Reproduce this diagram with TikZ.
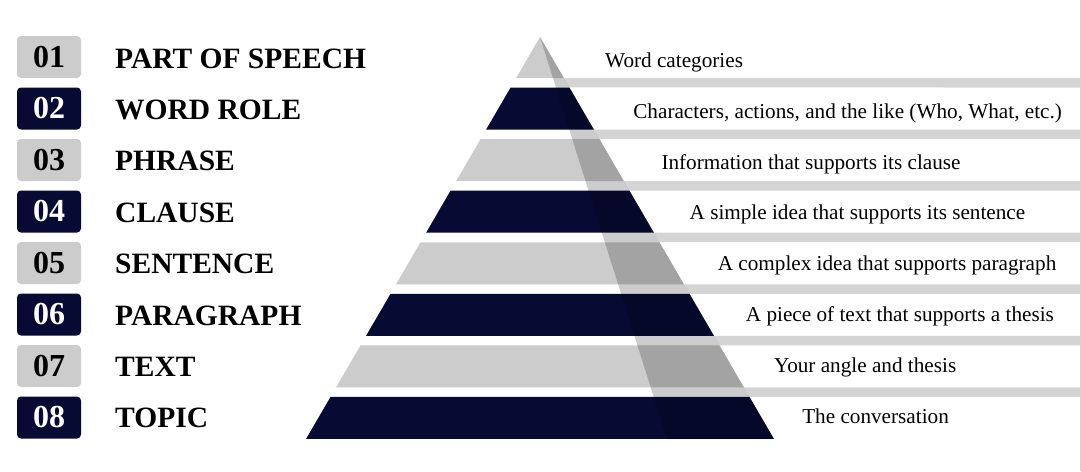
\documentclass[tikz,border=0pt]{standalone}
\usepackage{fontspec}
\setmainfont{Liberation Serif}
\usepackage{tikz}
\usetikzlibrary{calc}

\definecolor{Navy}{RGB}{7,10,50}
\definecolor{Band}{RGB}{204,204,204}
\definecolor{Bar}{RGB}{212,212,212}

\tikzset{
    numbox/.style = {rounded corners = 4pt, minimum width = 64pt, minimum height = 42pt, inner sep = 0pt, font = \fontsize{32}{32}\selectfont\bfseries},
    level/.style = {anchor = base west, inner sep = 0pt, font = \fontsize{29.5}{30}\selectfont\bfseries},
    note/.style = {anchor = base west, inner sep = 0pt, font = \fontsize{21.2}{22}\selectfont},
}

\begin{document}
\begin{tikzpicture}[x = 1pt, y = -1pt]
    \useasboundingbox [fill = white] (0, 0) rectangle (1081, 471);
    \coordinate (apex) at (540, 37);
    \coordinate (left) at (306, 439);
    \coordinate (right) at (774, 439);
    \coordinate (shade) at (667, 439);
    % bars in the gaps
    \foreach \i in {1, ..., 7} {
        \pgfmathsetmacro{\ya}{78 + 51.57*(\i - 1)}
        \pgfmathsetmacro{\yb}{\ya + 9.5}
        \pgfmathsetmacro{\ta}{(\ya - 37)/402}
        \pgfmathsetmacro{\tb}{(\yb - 37)/402}
        \fill [Bar] ($(apex)!\ta!(right)$) -- (1080, \ya) -- (1080, \yb) -- ($(apex)!\tb!(right)$) -- cycle;
    }
    % levels of the pyramid
    \foreach \i\c in {1/Band, 2/Navy, 3/Band, 4/Navy, 5/Band, 6/Navy, 7/Band, 8/Navy} {
        \pgfmathsetmacro{\tb}{(41 + 51.57*(\i - 1))/402}
        \pgfmathsetmacro{\ta}{max(0, \tb - 42/402)}
        \fill [\c] ($(apex)!\ta!(left)$) -- ($(apex)!\tb!(left)$) -- ($(apex)!\tb!(right)$) -- ($(apex)!\ta!(right)$) -- cycle;
    }
    \fill [black, opacity = 0.2] (apex) -- (shade) -- (right) -- cycle;
    \draw [Bar, line width = 1pt] (1080, 0) -- (1080, 471);
    % numbers, names and notes
    \foreach \i\c\t\name\text in {
        1/Band/black/PART OF SPEECH/Word categories,
        2/Navy/white/WORD ROLE/{Characters, actions, and the like (Who, What, etc.)},
        3/Band/black/PHRASE/Information that supports its clause,
        4/Navy/white/CLAUSE/A simple idea that supports its sentence,
        5/Band/black/SENTENCE/A complex idea that supports paragraph,
        6/Navy/white/PARAGRAPH/A piece of text that supports a thesis,
        7/Band/black/TEXT/Your angle and thesis,
        8/Navy/white/TOPIC/The conversation} {
        \pgfmathsetmacro{\ym}{57 + 51.5*(\i - 1)}
        \pgfmathsetmacro{\yl}{68 + 51.4*(\i - 1)}
        \pgfmathsetmacro{\yn}{67.5 + 50.8*(\i - 1)}
        \pgfmathsetmacro{\xn}{605 + 28.15*(\i - 1)}
        \node [numbox, fill = \c, text = \t] (num\i) at (49, \ym) {0\i};
        \node [level] (lev\i) at (115, \yl) {\name};
        \node [note] (note\i) at (\xn, \yn) {\text};
    }
\end{tikzpicture}
\end{document}
